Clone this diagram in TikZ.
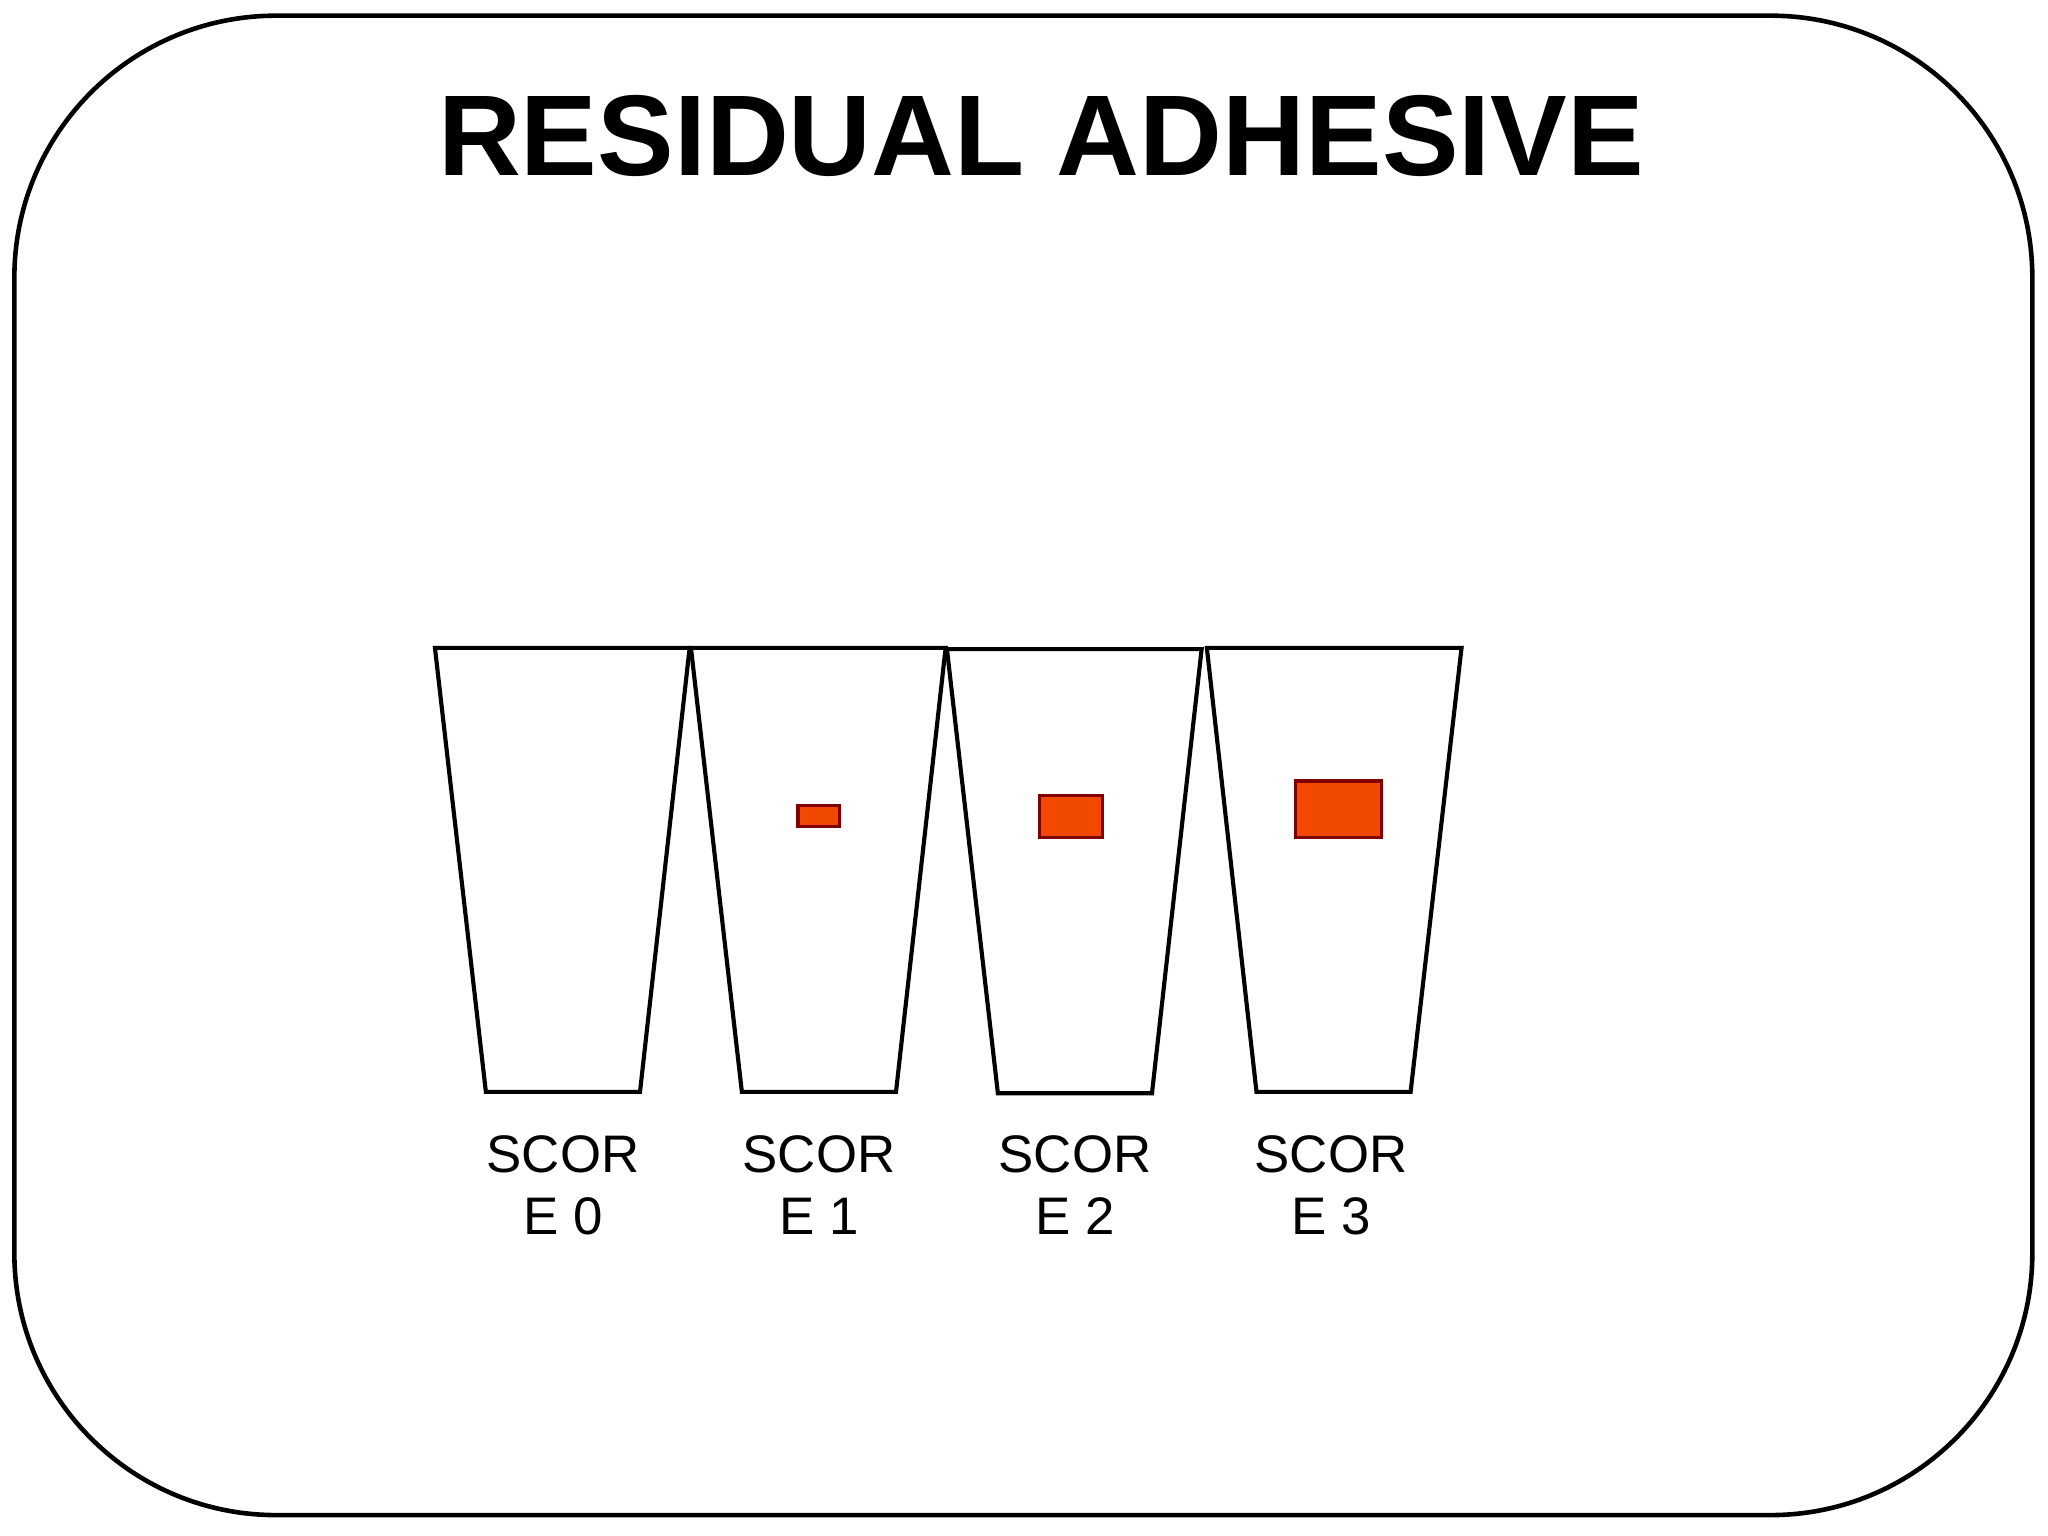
\documentclass[tikz,border=0pt]{standalone}
\usepackage{fontspec}
\setmainfont{Liberation Sans}
\begin{document}
\begin{tikzpicture}[x=0.01cm,y=-0.01cm,
  cup/.style={draw=black,line width=0.9pt},
  glue/.style={draw=red!50!black,fill=orange!60!red!95!black,line width=0.7pt},
  lbl/.style={font=\fontsize{11.5}{14}\selectfont,align=center,inner sep=0}]
\useasboundingbox (0,0) rectangle (1568,1176);
\draw[line width=1pt,rounded corners=57] (11,12) rectangle (1556,1160);
\node (title) at (797,104) {\fontsize{25}{30}\selectfont\bfseries RESIDUAL ADHESIVE};
\draw[cup] (333,496) -- (528,496) -- (490,836) -- (372,836) -- cycle;
\draw[cup] (529,496) -- (724,496) -- (686,836) -- (568,836) -- cycle;
\draw[cup] (725,497) -- (920,497) -- (882,837) -- (764,837) -- cycle;
\draw[cup] (924,496) -- (1119,496) -- (1080,836) -- (962,836) -- cycle;
\draw[glue] (611,617) rectangle (643,633);
\draw[glue] (796,609) rectangle (844,641);
\draw[glue] (992,598) rectangle (1058,641);
\foreach \x/\n in {431/0,627/1,823/2,1019/3}{
  \node[lbl] (s\n) at (\x,884) {SCOR};
  \node[lbl] (e\n) at (\x,931) {E \n};
}
\end{tikzpicture}
\end{document}
